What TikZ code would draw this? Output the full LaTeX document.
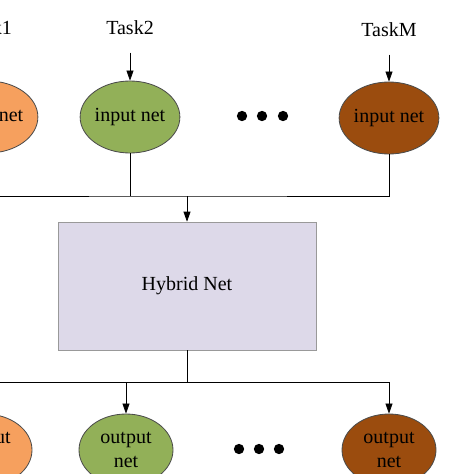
\documentclass[tikz,border=0pt]{standalone}
\usepackage{fontspec}
\setmainfont{Liberation Serif}
\usetikzlibrary{shapes.geometric, positioning, arrows.meta}
\definecolor{netOrange}{RGB}{246,160,94}
\definecolor{netGreen}{RGB}{146,176,88}
\definecolor{netBrown}{RGB}{155,76,14}
\definecolor{hybridFill}{RGB}{221,217,233}
\tikzset{
    >={Stealth[length=6pt, width=4.2pt, inset=0pt]}, % arrow heads
    every node/.style={font=\fontsize{12}{14.4}\selectfont}, % text size
    line width=0.7pt,
}

\begin{document}
\begin{tikzpicture}[
                                x=0.6pt, y=-0.6pt,
                                netStyle/.style={ellipse, draw=black!70, line width=0.5pt, inner sep=0pt, minimum width=56.4pt, minimum height=43.2pt, align=center},
                                dotStyle/.style={circle, fill=black, inner sep=0pt, minimum size=6.2pt},
                                hybridStyle/.style={rectangle, draw=black!40, fill=hybridFill, minimum width=154.8pt, minimum height=76.8pt},
                            ]
                            \useasboundingbox (0,0) rectangle (474,474);
                            \clip (0,0) rectangle (474,474);
                            % tasks and input nets
                            \node (task1) at (-12,28) {Task1};
                            \node (task2) at (130,28) {Task2};
                            \node (taskM) at (389,30) {TaskM};
                            \node[netStyle, fill=netOrange] (in1) at (-12,117) {input net};
                            \node[netStyle, fill=netGreen] (in2) at (130,117) {input net};
                            \node[netStyle, fill=netBrown] (inM) at (389,118) {input net};
                            \node[dotStyle] (inDot1) at (242,116) {};
                            \node[dotStyle] (inDot2) at (262,116) {};
                            \node[dotStyle] (inDot3) at (283,116) {};
                            % hybrid net
                            \node[hybridStyle] (hyb) at (187,286) {Hybrid Net};
                            \coordinate (busIn) at (187,196);
                            \coordinate (busOut) at (187,382);
                            % output nets
                            \node[netStyle, fill=netOrange] (out1) at (-15,450) {output\\net};
                            \node[netStyle, fill=netGreen] (out2) at (126,450) {output\\net};
                            \node[netStyle, fill=netBrown] (outM) at (389,450) {output\\net};
                            \node[dotStyle] (outDot1) at (239,449) {};
                            \node[dotStyle] (outDot2) at (259,449) {};
                            \node[dotStyle] (outDot3) at (279,449) {};
                            \draw[->, shorten <=7pt] (task1.south) -- (in1.north);
                            \draw[->, shorten <=7pt] (task2.south) -- (in2.north);
                            \draw[->, shorten <=7pt] (taskM.south) -- (inM.north);
                            \draw (in1.south) |- (busIn) -| (inM.south);
                            \draw (in2.south) -- (in2.south |- busIn);
                            \draw[->] (busIn) -- (hyb.north);
                            \draw (hyb.south) -- (busOut);
                            \draw (out1.north |- busOut) -- (outM.north |- busOut);
                            \draw[->] (out1.north |- busOut) -- (out1.north);
                            \draw[->] (out2.north |- busOut) -- (out2.north);
                            \draw[->] (outM.north |- busOut) -- (outM.north);
                        \end{tikzpicture}
\end{document}
